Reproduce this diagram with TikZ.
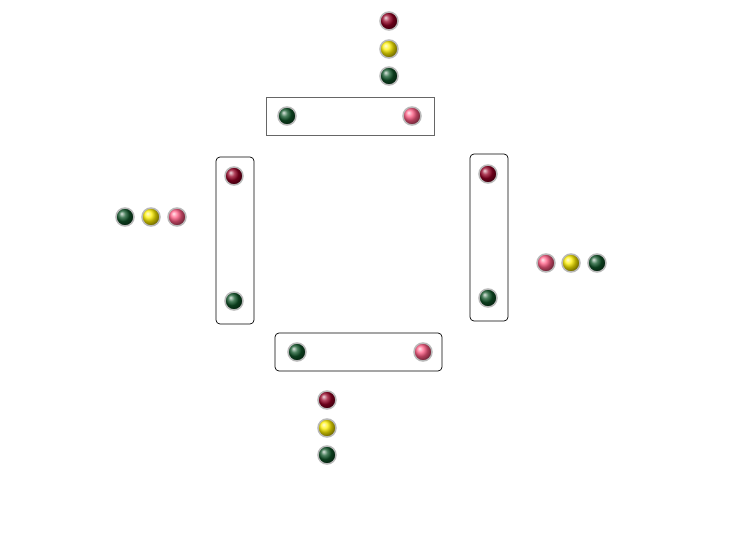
\documentclass[tikz,border=0pt]{standalone}
\definecolor{lampred}{RGB}{150,0,35}
\definecolor{lamppink}{RGB}{255,90,130}
\definecolor{lampyellow}{RGB}{255,240,0}
\definecolor{lampgreen}{RGB}{15,85,40}
\begin{document}
\begin{tikzpicture}[x=1pt,y=-1pt,
    lamp/.style={circle,draw=gray!55,line width=1.5pt,minimum size=18pt,inner sep=0pt},
    redoff/.style={lamp,ball color=lampred},
    redon/.style={lamp,ball color=lamppink},
    yellowon/.style={lamp,ball color=lampyellow},
    greenoff/.style={lamp,ball color=lampgreen},
    panel/.style={draw,rounded corners=4pt,line width=0.7pt,inner sep=0pt}]
\useasboundingbox (0,0) rectangle (750,552);

\node[redoff] (n1) at (389,21) {};
\node[yellowon] (n2) at (389,49) {};
\node[greenoff] (n3) at (389,76) {};
\node[draw=gray!80!black,line width=0.8pt,minimum width=168pt,minimum height=38pt] (pn) at (350,116) {};
\node[greenoff] (pn1) at (287,116) {};
\node[redon] (pn2) at (412,116) {};

\node[greenoff] (w1) at (125,217) {};
\node[yellowon] (w2) at (151,217) {};
\node[redon] (w3) at (177,217) {};
\node[panel,minimum width=38pt,minimum height=167pt] (pw) at (235,240.5) {};
\node[redoff] (pw1) at (234,176) {};
\node[greenoff] (pw2) at (234,301) {};

\node[panel,minimum width=38pt,minimum height=167pt] (pe) at (489,237.5) {};
\node[redoff] (pe1) at (488,174) {};
\node[greenoff] (pe2) at (488,298) {};
\node[redon] (e1) at (546,263) {};
\node[yellowon] (e2) at (571,263) {};
\node[greenoff] (e3) at (597,263) {};

\node[panel,minimum width=167pt,minimum height=38pt] (ps) at (358.5,352) {};
\node[greenoff] (ps1) at (297,352) {};
\node[redon] (ps2) at (423,352) {};
\node[redoff] (s1) at (327,400) {};
\node[yellowon] (s2) at (327,428) {};
\node[greenoff] (s3) at (327,455) {};
\end{tikzpicture}
\end{document}
